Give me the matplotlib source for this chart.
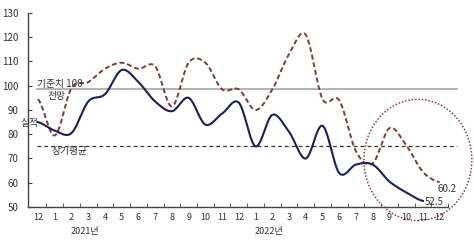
import numpy as np
import matplotlib
matplotlib.use('Agg')
import matplotlib.pyplot as plt
from matplotlib.patches import Ellipse

plt.rcParams['font.family'] = ['Noto Sans CJK KR', 'DejaVu Sans']

# months: Dec 2020 .. Dec 2022
month_labels = ['12', '1', '2', '3', '4', '5', '6', '7', '8', '9', '10', '11',
                '12', '1', '2', '3', '4', '5', '6', '7', '8', '9', '10', '11', '12']
# 실적 (actual), Dec 2020 .. Nov 2022
actual = [85, 81.5, 80.5, 93.5, 96.5, 106.5, 101.5, 93.5, 89.5, 95, 84, 88.5,
          93, 75, 88, 81, 70, 83.5, 64, 67.5, 67.5, 60.5, 56, 52.5]
# 전망 (outlook), Dec 2020 .. Dec 2022
outlook = [94.5, 79.5, 99, 101.5, 107, 109.5, 107, 108, 91.5, 109.5, 109.5, 98.5,
           98.5, 90, 98.5, 113, 121, 94.5, 94, 73, 68, 82.5, 75.5, 64.5, 60.2]
base_line = 98.6
long_avg = 75.2
year_labels = ['2021년', '2022년']


def smooth(vals, n=20):
	# catmull-rom style smoothing like a spreadsheet "smoothed line"
	vals = np.asarray(vals, dtype=float)
	xs, ys = [], []
	for i in range(len(vals) - 1):
		p0 = vals[max(i - 1, 0)]
		p1 = vals[i]
		p2 = vals[i + 1]
		p3 = vals[min(i + 2, len(vals) - 1)]
		c1 = p1 + (p2 - p0) / 6.0
		c2 = p2 - (p3 - p1) / 6.0
		t = np.linspace(0, 1, n, endpoint=(i == len(vals) - 2))
		y = (1 - t)**3 * p1 + 3 * (1 - t)**2 * t * c1 + 3 * (1 - t) * t**2 * c2 + t**3 * p2
		xs.append(i + t)
		ys.append(y)
	return np.concatenate(xs), np.concatenate(ys)


fig = plt.figure(figsize=(4.74, 2.44), dpi=100)
ax = fig.add_axes([28/474, 37/244, 420/474, 194/244])

ax.plot([-0.05, 25.05], [base_line, base_line], color='#a0a0a0', lw=1.1, clip_on=False)
ax.plot([-0.05, 25.05], [long_avg, long_avg], color='#333333', lw=0.9,
        ls=(0, (3, 2.5)), clip_on=False)

x, y = smooth(outlook)
ax.plot(x, y, color='#7a3b3b', lw=1.4, ls=(0, (2.5, 1.5)))
x, y = smooth(actual)
ax.plot(x, y, color='#1e1e5a', lw=1.5)

ell = Ellipse((22.7, 69.4), 6.45, 50, fill=False, edgecolor='#8b3a55',
              lw=1.1, ls=(0, (1, 1.2)), clip_on=False)
ax.add_patch(ell)

ax.set_xlim(-0.6, 24.4)
ax.set_ylim(50, 130)
ax.set_yticks(np.arange(50, 131, 10))
ax.set_xticks(np.arange(len(month_labels)))
ax.set_xticklabels(month_labels)
ax.set_xticks(np.arange(len(month_labels)) + 0.5, minor=True)
ax.tick_params(axis='x', which='major', length=0, pad=4, labelsize=6.5, colors='#333333')
ax.tick_params(axis='x', which='minor', direction='in', length=3, color='#444444')
ax.tick_params(axis='y', direction='in', length=3, pad=7, labelsize=7,
               color='#444444', labelcolor='#333333')
for s in ['top', 'right']:
	ax.spines[s].set_visible(False)
for s in ['left', 'bottom']:
	ax.spines[s].set_color('#444444')
	ax.spines[s].set_linewidth(1.0)

ax.text(-0.04, 100.7, '기준치 100', fontsize=7, color='#333333', va='center', ha='left')
ax.text(1.1, 95.8, '전망', fontsize=7, color='#333333', va='center', ha='center')
ax.text(0.05, 84.8, '실적', fontsize=7, color='#333333', va='center', ha='right', clip_on=False)
ax.text(0.82, 73.1, '장기평균', fontsize=7, color='#333333', va='center', ha='left')
ax.text(23.1, 52.2, '52.5', fontsize=7, color='#333333', va='center', ha='left')
ax.text(23.9, 57.3, '60.2', fontsize=7, color='#333333', va='center', ha='left')

ax.text(2.8, 40.0, year_labels[0], fontsize=6.5, color='#333333', va='center', ha='center')
ax.text(13.8, 40.0, year_labels[1], fontsize=6.5, color='#333333', va='center', ha='center')

fig.savefig('out.png', dpi=100)
